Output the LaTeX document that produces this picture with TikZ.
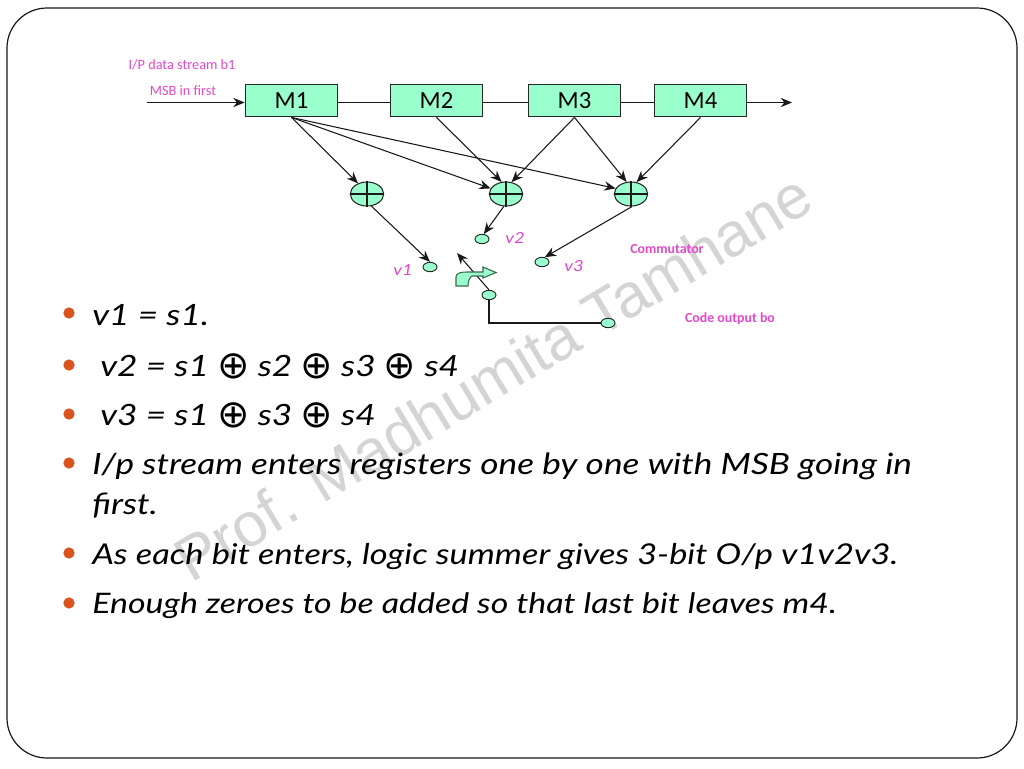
\documentclass[tikz,border=0pt]{standalone}
\usepackage{fontspec}
\setmainfont{Lato}[ItalicFeatures={FakeStretch=1.2}]
\newfontfamily\labfont{Carlito}
\newfontfamily\wmfont{Liberation Sans}
\newfontfamily\djfont{DejaVu Sans}
\usetikzlibrary{shapes.geometric,arrows.meta}
\definecolor{mint}{HTML}{99FFCC}
\definecolor{pinklab}{HTML}{E24AC8}
\definecolor{bul}{HTML}{D9541E}
\tikzset{
 x=0.75pt,y=-0.75pt,
 reg/.style={draw=black!85,fill=mint,line width=0.9pt,minimum width=69.5pt,minimum height=24.5pt,inner sep=0pt,font=\labfont\fontsize{18.5}{20}\selectfont},
 xorn/.style={ellipse,draw=black!85,fill=mint,line width=0.8pt,minimum width=25pt,minimum height=18pt,inner sep=0pt},
 tap/.style={ellipse,draw=black!85,fill=mint,line width=0.7pt,minimum width=10.5pt,minimum height=7pt,inner sep=0pt},
 conn/.style={line width=0.8pt,black!90},
 arr/.style={conn,-{Stealth[length=8.5pt,width=7pt]}},
 smalllab/.style={text=pinklab,inner sep=0pt,font=\labfont\fontsize{10.7}{12}\selectfont},
 boldlab/.style={smalllab,font=\labfont\bfseries\fontsize{10.4}{12}\selectfont},
 vlab/.style={text=pinklab,inner sep=0pt,font=\itshape\fontsize{11.5}{13}\selectfont},
 bodytext/.style={anchor=base west,inner sep=0pt,font=\itshape\fontsize{22}{24}\selectfont},
 bulletdot/.style={circle,fill=bul,minimum size=8.5pt,inner sep=0pt},
}
\newcommand{\oxsym}{\raisebox{-1.6pt}{\djfont\upshape\fontsize{29}{30}\selectfont ⊕}}
\begin{document}
\begin{tikzpicture}
\useasboundingbox (0,0) rectangle (1024,768);
\fill[white] (0,0) rectangle (1024,768);
\node[name=frame,draw=black!90,line width=0.9pt,rounded corners=30pt,minimum width=757.5pt,minimum height=562.5pt,inner sep=0pt] at (512,383) {};
\node[name=wmark,rotate=31,text=black!17,inner sep=0pt,font=\wmfont\fontsize{46.3}{50}\selectfont] at (493,377) {Prof. Madhumita Tamhane};

\node[reg] (m1) at (291.5,100.5) {M1};
\node[reg] (m2) at (436.5,100.5) {M2};
\node[reg] (m3) at (574.5,100.5) {M3};
\node[reg] (m4) at (700.5,100.5) {M4};
\coordinate (inp) at (147,102.5);
\coordinate (outp) at (792,102.5);
\draw[arr] (inp) -- (m1.west|-inp);
\draw[conn] (m1.east|-inp) -- (m2.west|-inp);
\draw[conn] (m2.east|-inp) -- (m3.west|-inp);
\draw[conn] (m3.east|-inp) -- (m4.west|-inp);
\draw[arr] (m4.east|-inp) -- (outp);

\node[xorn] (e1) at (367,194) {};
\node[xorn] (e2) at (506,194) {};
\node[xorn] (e3) at (631,194) {};
\foreach \e in {e1,e2,e3}{
 \draw[conn] (\e.north) -- (\e.south);
 \draw[conn] (\e.west) -- (\e.east);
}
\draw[arr] (m1.south) -- (e1.130);
\draw[arr] (m1.south) -- (e2.160);
\draw[arr] (m1.south) -- (e3.160);
\draw[arr] (m2.south) -- (e2.110);
\draw[arr] (m3.south) -- (e2.65);
\draw[arr] (m3.south) -- (e3.110);
\draw[arr] (m4.south) -- (e3.65);

\node[tap] (t1) at (430,267) {};
\node[tap] (t2) at (482,239) {};
\node[tap] (t3) at (542,262) {};
\node[tap] (c0) at (489,295) {};
\node[tap] (c1) at (608,323) {};
\coordinate (cend) at (457,253);
\coordinate (cbend) at (489,323);
\draw[arr] (e1.-70) -- (t1.north);
\draw[arr] (e2.-100) -- (t2.70);
\draw[arr] (e3.-85) -- (t3.60);
\draw[arr] (c0.north) -- (cend);
\draw[conn] (c0.south) -- (cbend) -- (c1.west);
\draw[fill=mint,line width=0.8pt,draw=black!60!mint] (456,286) -- (456,277) .. controls (456,273) and (461,272) .. (467,272) -- (483,272) -- (483,267) -- (496,272.5) -- (483,278) -- (483,276) -- (472,276) .. controls (469,278) and (468,282) .. (468,286) -- cycle;

\node[smalllab] (l1) at (182,65) {I/P data stream b1};
\node[smalllab] (l2) at (183,91) {MSB in first};
\node[boldlab] (l3) at (667,249) {Commutator};
\node[boldlab] (l4) at (730,319) {Code output bo};
\node[vlab] (v1) at (403,270) {v1};
\node[vlab] (v2) at (515,238) {v2};
\node[vlab] (v3) at (574,266) {v3};

\foreach \n/\y in {a/313,b/365,c/414,d/463,e/553,f/603}{
 \node[bulletdot] (bu\n) at (69,\y) {};
}
\node[bodytext] (t-a) at (92,325) {v1 = s1.};
\node[bodytext] (t-b) at (100,376) {v2 = s1 \oxsym{} s2 \oxsym{} s3 \oxsym{} s4};
\node[bodytext] (t-c) at (100,425) {v3 = s1 \oxsym{} s3 \oxsym{} s4};
\node[bodytext] (t-d) at (92,474) {I/p stream enters registers one by one with MSB going in};
\node[bodytext] (t-e) at (92,514) {first.};
\node[bodytext,font=\itshape\fontsize{21.5}{24}\selectfont] (t-f) at (92,564) {As each bit enters, logic summer gives 3-bit O/p v1v2v3.};
\node[bodytext,font=\itshape\fontsize{21.2}{24}\selectfont] (t-g) at (92,613) {Enough zeroes to be added so that last bit leaves m4.};
\end{tikzpicture}
\end{document}
